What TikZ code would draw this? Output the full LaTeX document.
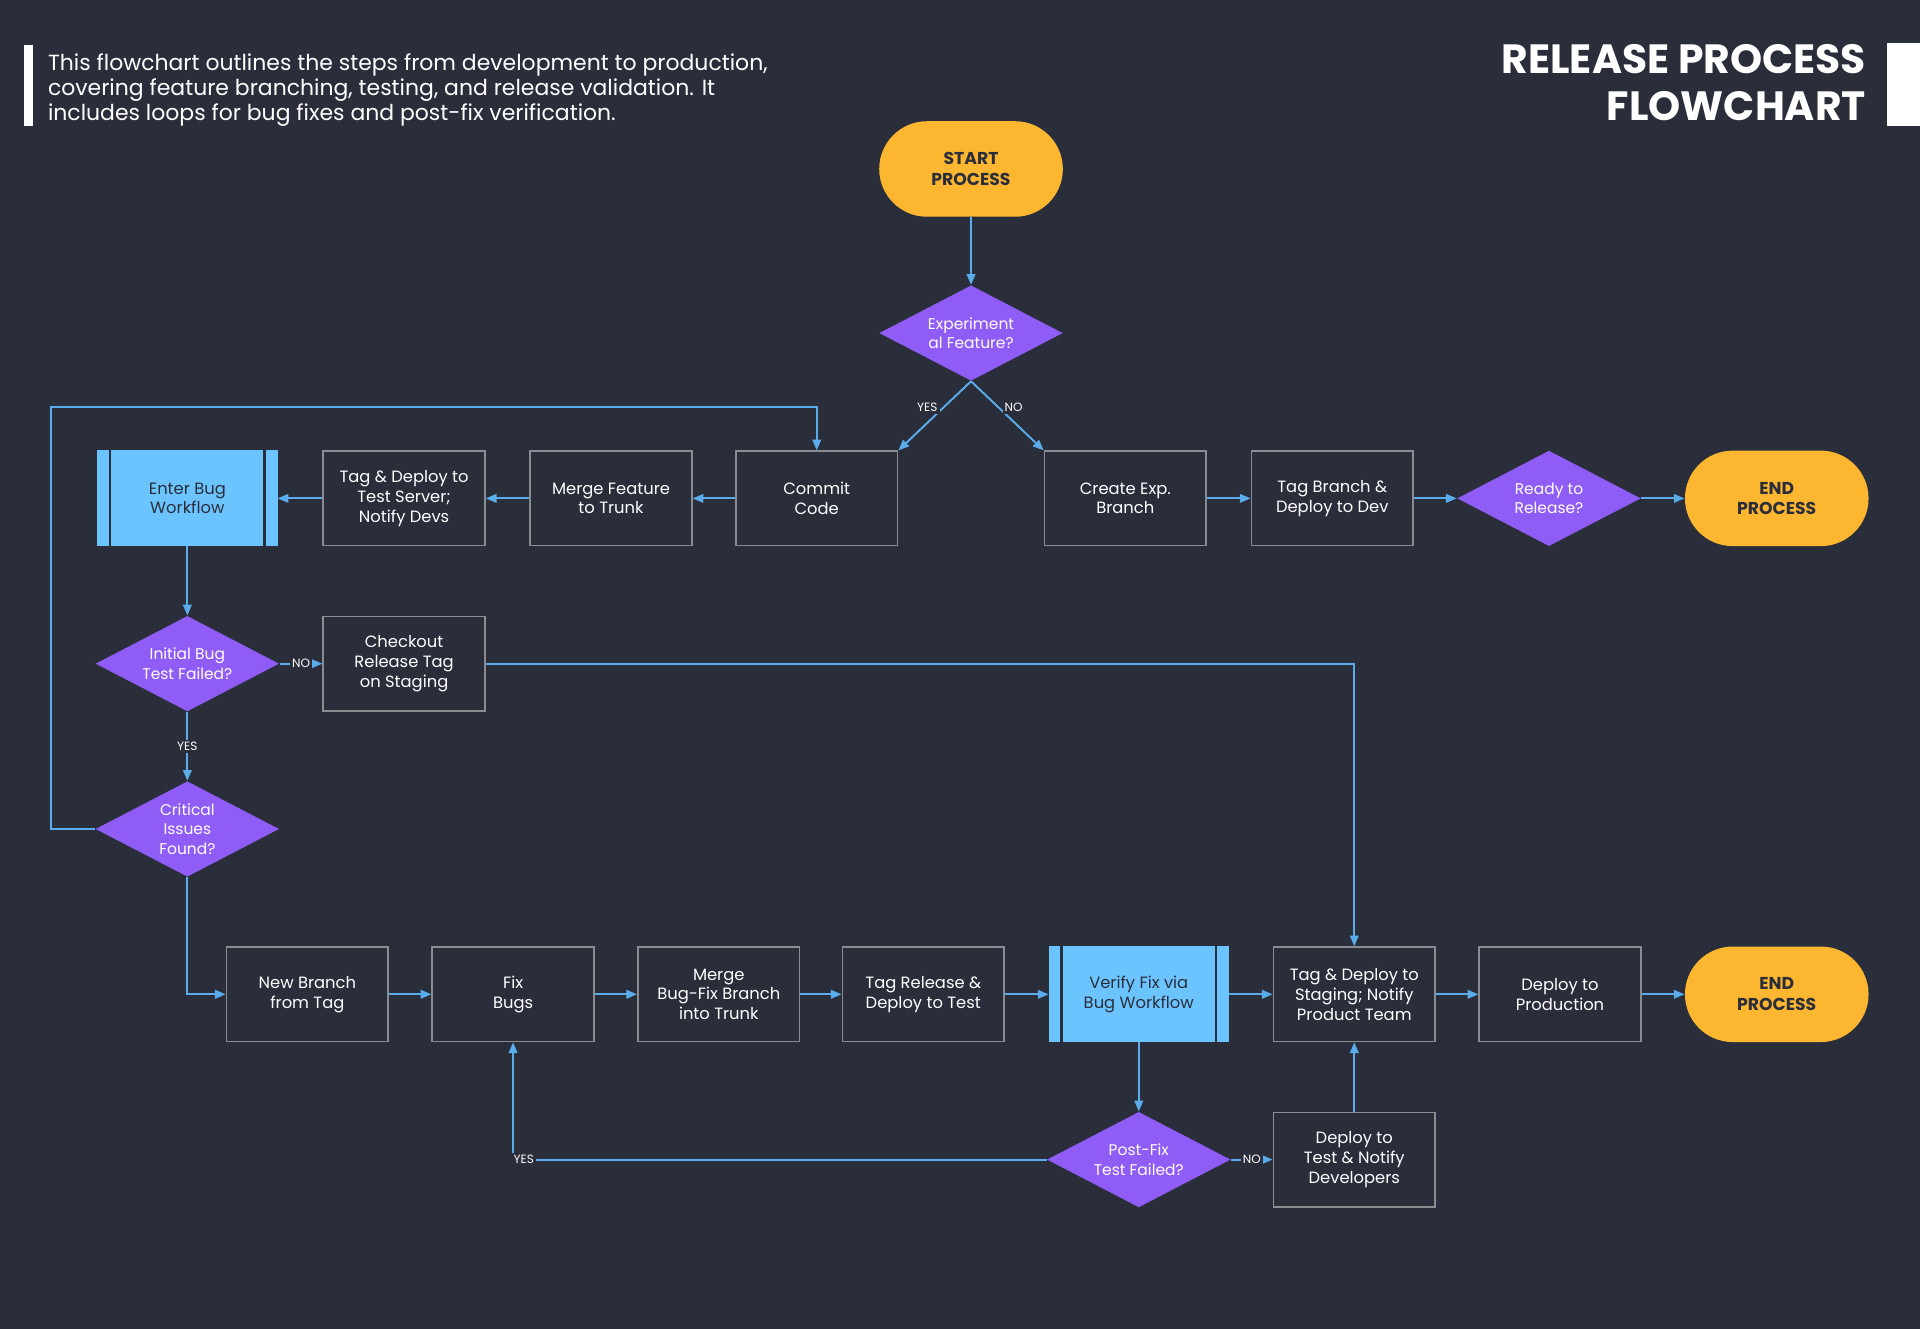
\documentclass[tikz,border=0pt]{standalone}
\usepackage{fontspec}
\setmainfont{Poppins}
\usetikzlibrary{shapes.geometric,arrows.meta}
\definecolor{bgc}{HTML}{2A2E3B}
\definecolor{lnc}{HTML}{5AACEB}
\definecolor{orc}{HTML}{FDB62F}
\definecolor{puc}{HTML}{8F5CF5}
\definecolor{blc}{HTML}{6CC4FF}
\definecolor{bdc}{HTML}{8A8C92}
\tikzset{
  proc/.style={rectangle, draw=bdc, line width=0.8pt, fill=bgc, text=white, minimum width=2.64cm, minimum height=1.54cm, align=center, font=\fontsize{7.6}{9.2}\selectfont},
  sub/.style={proc, fill=blc, draw=blc, text=bgc, minimum width=2.92cm},
  ask/.style={diamond, fill=puc, text=white, minimum width=3cm, minimum height=1.56cm, inner sep=0pt, aspect=1.9, align=center, font=\fontsize{7.2}{9}\selectfont},
  term/.style={rectangle, rounded corners=0.78cm, fill=orc, text=bgc, minimum width=3cm, minimum height=1.56cm, align=center, font=\bfseries\fontsize{8}{9.6}\selectfont},
  flow/.style={draw=lnc, line width=0.9pt, -{Triangle[length=5pt,width=4pt]}},
  tag/.style={fill=bgc, text=white, inner sep=1pt, font=\fontsize{5.6}{6}\selectfont},
  bar/.style={draw=bgc, line width=1.2pt}
}
\begin{document}
\begin{tikzpicture}[x=0.02cm,y=-0.02cm]
\fill[bgc] (0,0) rectangle (1568,1085);
\useasboundingbox (0,0) rectangle (1568,1085);
% header
\fill[white] (20,37) rectangle (27,103);
\fill[white] (1541,35) rectangle (1568,103);
\node[anchor=north west, text=white, align=left, font=\fontsize{10.2}{11.6}\selectfont] (desc) at (33,38) {This flowchart outlines the steps from development to production,\\covering feature branching, testing, and release validation. It\\includes loops for bug fixes and post-fix verification.};
\node[anchor=north east, text=white, align=right, font=\bfseries\fontsize{19}{22}\selectfont] (title) at (1530,30) {RELEASE PROCESS\\FLOWCHART};
% nodes
\node[term] (start) at (793,138) {START\\PROCESS};
\node[ask] (exp) at (793,272) {Experiment\\al Feature?};
\node[proc] (commit) at (667,407) {Commit\\Code};
\node[proc] (merge) at (499,407) {Merge Feature\\to Trunk};
\node[proc] (tagtest) at (330,407) {Tag \& Deploy to\\Test Server;\\Notify Devs};
\node[sub] (enter) at (153,407) {Enter Bug\\Workflow};
\node[proc] (create) at (919,407) {Create Exp.\\Branch};
\node[proc] (tagdev) at (1088,407) {Tag Branch \&\\Deploy to Dev};
\node[ask] (ready) at (1265,407) {Ready to\\Release?};
\node[term] (end1) at (1451,407) {END\\PROCESS};
\node[ask] (initial) at (153,542) {Initial Bug\\Test Failed?};
\node[proc] (checkout) at (330,542) {Checkout\\Release Tag\\on Staging};
\node[ask] (critical) at (153,677) {Critical\\Issues\\Found?};
\node[proc] (newbr) at (251,812) {New Branch\\from Tag};
\node[proc] (fix) at (419,812) {Fix\\Bugs};
\node[proc] (mergebug) at (587,812) {Merge\\Bug-Fix Branch\\into Trunk};
\node[proc] (tagrel) at (754,812) {Tag Release \&\\Deploy to Test};
\node[sub] (verify) at (930,812) {Verify Fix via\\Bug Workflow};
\node[proc] (tagstage) at (1106,812) {Tag \& Deploy to\\Staging; Notify\\Product Team};
\node[proc] (prod) at (1274,812) {Deploy to\\Production};
\node[term] (end2) at (1451,812) {END\\PROCESS};
\node[ask] (postfix) at (930,947) {Post-Fix\\Test Failed?};
\node[proc] (deptest) at (1106,947) {Deploy to\\Test \& Notify\\Developers};
% sub-process bars
\foreach \n in {enter,verify} {
  \draw[bar] ([xshift=6pt]\n.north west) -- ([xshift=6pt]\n.south west);
  \draw[bar] ([xshift=-6pt]\n.north east) -- ([xshift=-6pt]\n.south east);
}
% connectors
\draw[flow] (start) -- (exp);
\draw[flow] (exp.south) -- (commit.north east) node[tag, pos=0.45, above left=-1pt] {YES};
\draw[flow] (exp.south) -- (create.north west) node[tag, pos=0.45, above right=-1pt] {NO};
\draw[flow] (commit) -- (merge);
\draw[flow] (merge) -- (tagtest);
\draw[flow] (tagtest) -- (enter);
\draw[flow] (create) -- (tagdev);
\draw[flow] (tagdev) -- (ready);
\draw[flow] (ready) -- (end1);
\draw[flow] (enter) -- (initial);
\draw[flow] (initial) -- (checkout) node[tag, midway] {NO};
\draw[flow] (initial) -- (critical) node[tag, midway] {YES};
\draw[flow] (checkout.east) -| (tagstage.north);
\draw[flow] (critical.west) -- (42,677) -- (42,332) -| (commit.north);
\draw[flow] (critical.south) |- (newbr.west);
\draw[flow] (newbr) -- (fix);
\draw[flow] (fix) -- (mergebug);
\draw[flow] (mergebug) -- (tagrel);
\draw[flow] (tagrel) -- (verify);
\draw[flow] (verify) -- (tagstage);
\draw[flow] (tagstage) -- (prod);
\draw[flow] (prod) -- (end2);
\draw[flow] (verify) -- (postfix);
\draw[flow] (postfix.west) -| (fix.south) node[tag, pos=0.49] {YES};
\draw[flow] (postfix) -- (deptest) node[tag, midway] {NO};
\draw[flow] (deptest) -- (tagstage);
\end{tikzpicture}
\end{document}
